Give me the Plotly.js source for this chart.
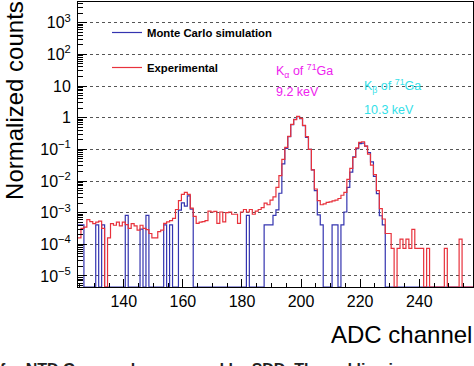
<!DOCTYPE html>
<html>
<head>
<meta charset="utf-8">
<script src="https://cdn.plot.ly/plotly-3.0.1.min.js"></script>
<style>html,body{margin:0;padding:0;background:#fff}#chart{width:474px;height:366px}</style>
</head>
<body>
<div id="chart"></div>
<script>
// ADC channel (bin centres, bin width 1)
var channels = [
  125,126,127,128,129,130,131,132,133,134,
  135,136,137,138,139,140,141,142,143,144,
  145,146,147,148,149,150,151,152,153,154,
  155,156,157,158,159,160,161,162,163,164,
  165,166,167,168,169,170,171,172,173,174,
  175,176,177,178,179,180,181,182,183,184,
  185,186,187,188,189,190,191,192,193,194,
  195,196,197,198,199,200,201,202,203,204,
  205,206,207,208,209,210,211,212,213,214,
  215,216,217,218,219,220,221,222,223,224,
  225,226,227,228,229,230,231,232,233,234,
  235,236,237,238,239,240,241,242,243,244,
  245,246,247,248,249,250,251,252,253,254,
  255,256,257,258
];
// Monte Carlo simulation (normalized counts)
var mcCounts = [
  4.1e-4,4.1e-4,0,0,0,0,4.1e-4,0,4.1e-4,0,
  0,0,0,0,0,0,8.2e-4,0,0,0,
  0,3.0e-4,0,8.2e-4,0,0,0,0,0,4.1e-4,
  0,4.1e-4,0,0,1.2e-3,2.05e-3,1.6e-3,3.4e-3,1.3e-3,0,
  0,0,0,0,0,0,0,0,0,0,
  0,0,0,0,0,0,0,8.2e-4,0,0,
  0,0,0,4.1e-4,4.1e-4,4.1e-4,8.2e-4,1.23e-3,4.1e-3,3.5e-2,
  0.107,0.251,0.603,0.891,1.07,0.933,0.562,0.24,0.100,2.24e-2,
  5.0e-3,8.5e-4,4.1e-4,0,0,0,4.1e-4,4.1e-4,0,4.1e-4,
  1.05e-3,6.3e-3,1.9e-2,5.75e-2,0.105,0.151,0.158,0.126,7.9e-2,4.0e-2,
  1.41e-2,4.0e-3,8.0e-4,4.1e-4,0,0,0,0,0,0,
  0,0,0,0,0,0,0,0,0,0,
  0,0,0,0,0,0,0,0,0,0,
  0,0,0,0
];
// Experimental (normalized counts)
var expCounts = [
  1.6e-4,3.2e-4,3.5e-4,6.0e-4,5.2e-4,4.5e-4,5.0e-4,5.4e-4,3.2e-4,0,
  1.6e-4,4.5e-4,4.0e-4,5.0e-4,3.8e-4,5.0e-4,4.2e-4,3.2e-4,4.5e-4,3.8e-4,
  2.8e-4,4.0e-4,3.2e-4,2.9e-4,2.2e-4,1.6e-4,1.6e-4,2.5e-4,2.8e-4,4.6e-4,
  5.1e-4,5.6e-4,6.6e-4,1.26e-3,2.4e-3,3.8e-3,4.4e-3,3.8e-3,1.4e-3,7.6e-4,
  4.6e-4,5.0e-4,5.2e-4,5.6e-4,1.12e-3,1.05e-3,1.1e-3,4.6e-4,1.05e-3,5.1e-4,
  1.0e-3,1.05e-3,8.9e-4,8.9e-4,4.6e-4,1.05e-3,1.26e-3,1.05e-3,1.26e-3,8.9e-4,
  1.12e-3,1.26e-3,1.45e-3,2.0e-3,1.78e-3,2.5e-3,3.16e-3,6.3e-3,1.48e-2,4.8e-2,
  0.115,0.257,0.617,0.871,1.096,0.955,0.575,0.251,0.100,2.24e-2,
  5.6e-3,2.4e-3,1.78e-3,1.9e-3,2.1e-3,2.2e-3,2.35e-3,2.5e-3,2.8e-3,3.55e-3,
  4.4e-3,1.12e-2,2.5e-2,5.6e-2,0.112,0.166,0.174,0.126,7.1e-2,3.16e-2,
  1.58e-2,5.0e-3,1.35e-3,6.3e-4,2.2e-4,2.2e-4,7.4e-5,0,7.4e-5,1.45e-4,
  7.4e-5,1.45e-4,7.4e-5,2.95e-4,7.4e-5,7.4e-5,7.4e-5,0,7.4e-5,0,
  0,0,0,0,7.4e-5,0,0,0,0,1.45e-4,
  0,0,0,0
];
var xTickVals = [140,160,180,200,220,240];
var yTickVals = [1e-5,1e-4,1e-3,1e-2,1e-1,1,10,100,1000];
var yTickText = ['10<sup>\u22125</sup>','10<sup>\u22124</sup>','10<sup>\u22123</sup>','10<sup>\u22122</sup>','10<sup>\u22121</sup>','1','10','10<sup>2</sup>','10<sup>3</sup>'];
var seriesNames = ['Monte Carlo simulation','Experimental'];
var seriesColors = ['#3434b0','#e8323c'];

var xRange = [124.5, 258.2];
var yRange = [-5.348, 3.654];
var yFloor = Math.pow(10, yRange[0]);

function histSteps(vals){
  var xs = [], ys = [];
  for (var i = 0; i < channels.length; i++){
    xs.push(channels[i] - 0.5);
    ys.push(vals[i] > 0 ? vals[i] : yFloor);
  }
  xs.push(channels[channels.length-1] + 0.5);
  ys.push(vals[vals.length-1] > 0 ? vals[vals.length-1] : yFloor);
  return {x: xs, y: ys};
}

var minorVals = [];
for (var d = -6; d <= 3; d++){
  for (var k = 2; k <= 9; k++){
    var v = k * Math.pow(10, d);
    if (Math.log10(v) > yRange[0] && Math.log10(v) < yRange[1]) minorVals.push(v);
  }
}

var font = 'Liberation Sans, Arial, Helvetica, sans-serif';
var sMC = histSteps(mcCounts), sEx = histSteps(expCounts);
var traces = [
  {x: sMC.x, y: sMC.y, type: 'scatter', mode: 'lines', line: {shape: 'hv', color: seriesColors[0], width: 1.2}, name: seriesNames[0], legendgroup: 'a', hoverinfo: 'skip'},
  {x: sEx.x, y: sEx.y, type: 'scatter', mode: 'lines', line: {shape: 'hv', color: seriesColors[1], width: 1.2}, name: seriesNames[1], legendgroup: 'b', hoverinfo: 'skip'}
];

function px2x(p){ return (p - 78) / 394.7; }
function px2y(p){ return (287 - p) / 285; }

var layout = {
  width: 474, height: 366,
  margin: {l: 78, r: 1.3, t: 2, b: 79, pad: 0},
  paper_bgcolor: '#fff', plot_bgcolor: '#fff',
  font: {family: font, color: '#000'},
  showlegend: true,
  legend: {
    x: px2x(107), y: px2y(18), xanchor: 'left', yanchor: 'top',
    bgcolor: 'rgba(0,0,0,0)', borderwidth: 0,
    font: {family: font, size: 11.3, weight: 'bold', color: '#000'},
    traceorder: 'grouped', tracegroupgap: 16
  },
  xaxis: {
    range: xRange, tickmode: 'linear', tick0: 0, dtick: 20,
    ticks: 'inside', ticklen: 8, tickwidth: 1, tickcolor: '#000',
    minor: {ticks: 'inside', ticklen: 4, tick0: 0, dtick: 5, tickcolor: '#000', showgrid: false},
    showline: true, linecolor: '#000', linewidth: 1, mirror: true,
    showgrid: false, zeroline: false,
    tickfont: {family: font, size: 16, color: '#000'}
  },
  yaxis: {
    type: 'log', range: yRange,
    tickmode: 'array', tickvals: yTickVals, ticktext: yTickText,
    ticks: 'inside', ticklen: 9, tickwidth: 1, tickcolor: '#000',
    minor: {ticks: 'inside', ticklen: 5, tickvals: minorVals, tickcolor: '#000', showgrid: false},
    showline: true, linecolor: '#000', linewidth: 1, mirror: true,
    showgrid: true, gridcolor: '#555', griddash: 'dot', gridwidth: 1,
    zeroline: false, ticklabelstandoff: 3,
    tickfont: {family: font, size: 16, color: '#000'}
  },
  shapes: [
    {type: 'rect', xref: 'paper', yref: 'paper', x0: px2x(103), x1: px2x(296), y0: px2y(100), y1: px2y(4), fillcolor: '#fff', line: {width: 0}, layer: 'between'},
    {type: 'rect', xref: 'paper', yref: 'paper', x0: px2x(296), x1: px2x(321), y0: px2y(100), y1: px2y(62), fillcolor: '#fff', line: {width: 0}, layer: 'between'}
  ],
  annotations: [
    {text: 'Normalized counts', xref: 'paper', yref: 'paper', x: px2x(15), y: px2y(100), xanchor: 'center', yanchor: 'middle', textangle: -90, showarrow: false, font: {family: font, size: 24, color: '#000'}},
    {text: 'ADC channel', xref: 'paper', yref: 'paper', x: px2x(474), y: px2y(334), xanchor: 'right', yanchor: 'middle', showarrow: false, font: {family: font, size: 24, color: '#000'}},
    {text: 'K<sub>\u03b1</sub> of <sup>71</sup>Ga', xref: 'paper', yref: 'paper', x: px2x(274), y: px2y(71), xanchor: 'left', yanchor: 'middle', showarrow: false, font: {family: font, size: 12.5, color: '#ee22ee'}},
    {text: '9.2 keV', xref: 'paper', yref: 'paper', x: px2x(274), y: px2y(92), xanchor: 'left', yanchor: 'middle', showarrow: false, font: {family: font, size: 12.5, color: '#ee22ee'}},
    {text: 'K<sub>\u03b2</sub> of <sup>71</sup>Ga', xref: 'paper', yref: 'paper', x: px2x(362), y: px2y(86), xanchor: 'left', yanchor: 'middle', showarrow: false, font: {family: font, size: 12.5, color: '#33e0e8'}},
    {text: '10.3 keV', xref: 'paper', yref: 'paper', x: px2x(362), y: px2y(110), xanchor: 'left', yanchor: 'middle', showarrow: false, font: {family: font, size: 12.5, color: '#33e0e8'}},
    {text: 'for NTD Ge sample measured by SDD. The red line is', xref: 'paper', yref: 'paper', x: px2x(-2), y: px2y(369), xanchor: 'left', yanchor: 'middle', showarrow: false, font: {family: font, size: 16, weight: 'bold', color: '#222'}}
  ]
};

Plotly.newPlot('chart', traces, layout, {staticPlot: true, displayModeBar: false});
</script>
</body>
</html>
